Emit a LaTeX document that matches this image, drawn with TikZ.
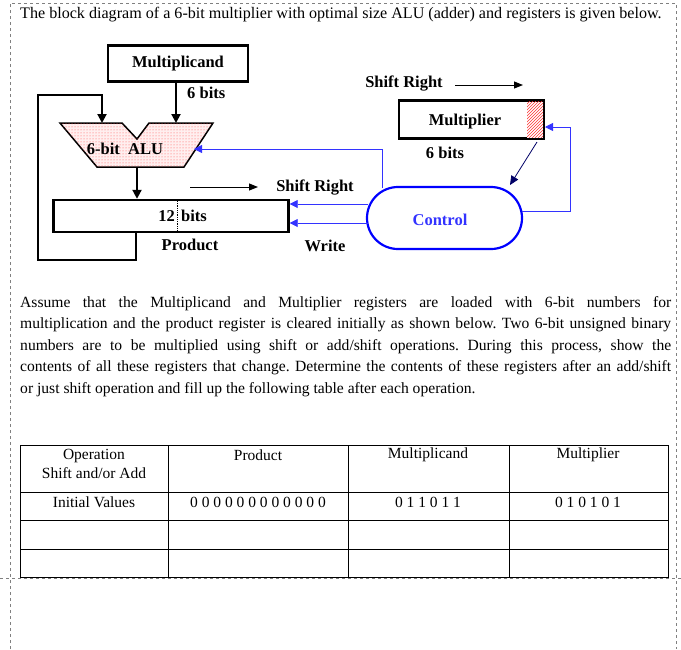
\documentclass[tikz,border=0pt]{standalone}
\usepackage{fontspec}
\setmainfont{Liberation Serif}
\usetikzlibrary{patterns,arrows.meta}
\begin{document}
\frenchspacing
\begin{tikzpicture}[x=1pt,y=-1pt,
  reg/.style={draw,line width=2.6pt},
  lbl/.style={font=\bfseries\fontsize{16.5}{18}\selectfont,inner sep=0pt},
  blk/.style={line width=2pt,-{Triangle[length=9pt,width=9pt]}},
  bl/.style={draw=blue!55,line width=0.8pt},
  bla/.style={bl,-{Triangle[length=8pt,width=8pt]},blue!80},
  txt/.style={font=\fontsize{16.1}{18}\selectfont,inner sep=0pt},
  cell/.style={font=\fontsize{15.5}{17}\selectfont,inner sep=0pt,align=center}]
\useasboundingbox (0,0) rectangle (681,649);
% frame
\draw[gray,dashed,line width=0.5pt] (10,649) -- (10,3) -- (676,3) -- (676,649);
\draw[gray,dashed,line width=0.5pt] (0,578) -- (681,578);
\node[txt,anchor=west] (hdr) at (20,15) {The block diagram of a 6-bit multiplier with optimal size ALU (adder) and registers is given below.};
% multiplicand
\node[reg,minimum width=140pt,minimum height=36pt,inner sep=0pt] (mcand) at (178,63.5) {};
\node[lbl] (mcl) at (178,64) {Multiplicand};
\node[lbl,anchor=west] (mcb) at (187,93) {6 bits};
% ALU
\draw[line width=1.5pt,fill=pink!25,postaction={pattern=dots,pattern color=red!70}]
  (60,123) -- (122,123) -- (137,139) -- (149,123) -- (213,123) -- (184,167) -- (97,167) -- cycle;
\coordinate (aluin1) at (102,123);
\coordinate (aluin2) at (176,123);
\coordinate (aluout) at (137,167);
\coordinate (aluright) at (194,149);
\node[lbl] (alul) at (125,149) {6-bit\ \ ALU};
% product
\node[draw,line width=2.4pt,minimum width=235pt,minimum height=32pt,inner sep=0pt] (prod) at (171,216) {};
\draw[densely dotted,line width=0.8pt] (177,201) -- (177,231);
\node[lbl,anchor=east] (p12) at (175,216) {12};
\node[lbl,anchor=west] (pbits) at (181,216) {bits};
\node[lbl] (pl) at (190,245) {Product};
% arrows black
\draw[blk] (mcand.south -| aluin2) -- (aluin2);
\draw[blk] (aluout) -- (aluout |- prod.north);
\coordinate (fb1) at (136,233);
\draw[line width=2pt,-{Triangle[length=9pt,width=9pt]}] (fb1) -- (136,260) -- (38,260) -- (38,95) -- (102,95) -- (aluin1);
\coordinate (sr1a) at (190,187); \coordinate (sr1b) at (258,187);
\draw[line width=1pt,-{Triangle[length=9pt,width=7pt]}] (sr1a) -- (sr1b);
\node[lbl] (sr1) at (315,188) {Shift Right};
\node[lbl] (wr) at (325,246) {Write};
% multiplier
\node[draw,line width=2.6pt,minimum width=145pt,minimum height=38pt,inner sep=0pt] (mplier) at (471.5,119.5) {};
\fill[white] (527,101.5) rectangle (543,137.5);
\fill[pattern=north east lines,pattern color=red!80] (527,101.5) rectangle (543,137.5);
\node[lbl] (mpl) at (465,122) {Multiplier};
\node[lbl] (mpb) at (445,153) {6 bits};
\node[lbl] (sr2) at (404,84) {Shift Right};
\coordinate (sr2a) at (455,85); \coordinate (sr2b) at (523,85);
\draw[line width=1pt,-{Triangle[length=9pt,width=7pt]}] (sr2a) -- (sr2b);
% control
\node[draw=blue,line width=2.2pt,rounded corners=31pt,minimum width=155pt,minimum height=62pt,inner sep=0pt] (ctrl) at (444.5,218) {};
\node[lbl,text=blue!80] (ctl) at (440,220) {Control};
% blue connectors
\draw[bla] (382,188) -- (382,149) -- (aluright);
\draw[bla] (368,204) -- (prod.east |- 0,204);
\draw[bla] (368,223) -- (prod.east |- 0,223);
\draw[bla] (522,211) -- (570,211) -- (570,127) -- (545,127);
\draw[blue!40!black,line width=0.8pt,-{Triangle[length=9pt,width=8pt]}] (537,142) -- (510,185);
% paragraph
\node[txt,anchor=north west,text width=651pt,align=justify,font=\fontsize{15.6}{21.5}\selectfont] (para) at (20,296) {Assume that the Multiplicand and Multiplier registers are loaded with 6-bit numbers for\linebreak multiplication and the product register is cleared initially as shown below. Two 6-bit unsigned binary\linebreak numbers are to be multiplied using shift or add/shift operations. During this process, show the\linebreak contents of all these registers that change. Determine the contents of these registers after an add/shift\linebreak or just shift operation and fill up the following table after each operation.};
% table
\draw[line width=0.8pt] (20,445) rectangle (668,577);
\foreach \y in {492,520,549} \draw[line width=0.8pt] (20,\y) -- (668,\y);
\foreach \x in {168,348,509} \draw[line width=0.8pt] (\x,445) -- (\x,577);
\node[cell] (h1) at (94,464) {Operation\\[2pt]Shift and/or Add};
\node[cell] (h2) at (258,455) {Product};
\node[cell] (h3) at (428,455) {Multiplicand};
\node[cell] (h4) at (588,455) {Multiplier};
\node[cell] (r1) at (94,502) {Initial Values};
\node[cell] (r2) at (258,502) {0 0 0 0 0 0 0 0 0 0 0 0};
\node[cell] (r3) at (428,502) {0 1 1 0 1 1};
\node[cell] (r4) at (588,502) {0 1 0 1 0 1};
\end{tikzpicture}
\end{document}
